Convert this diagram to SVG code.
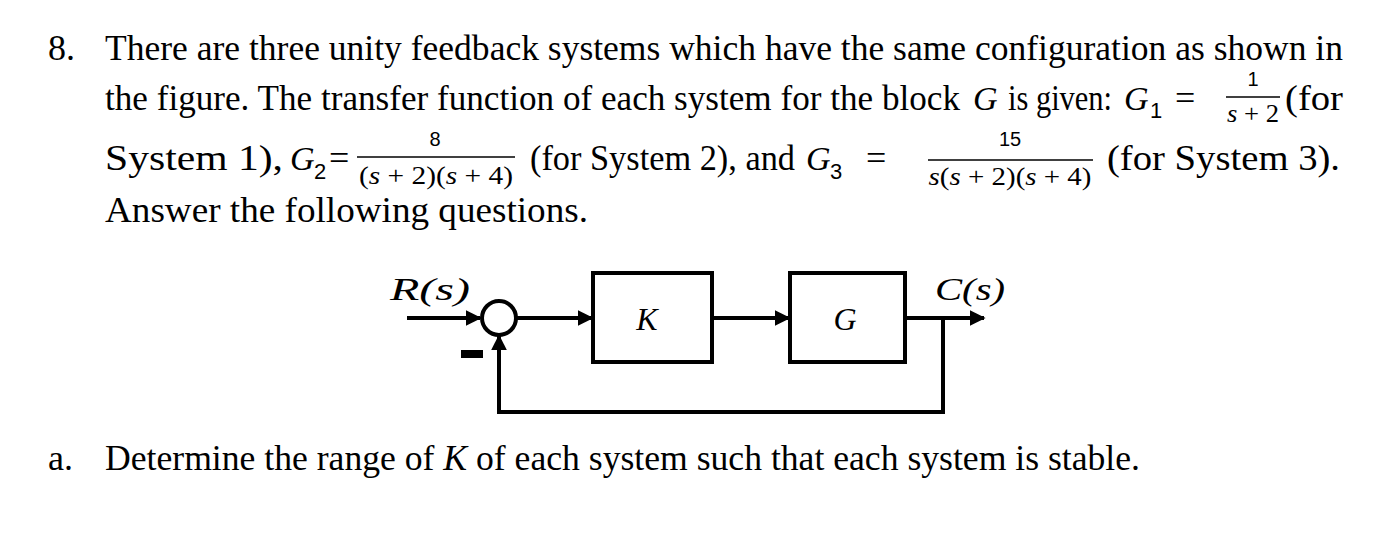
<svg xmlns="http://www.w3.org/2000/svg" width="1386" height="540" viewBox="0 0 1386 540">
<style>
.t{font-family:"Liberation Serif",serif;font-size:36px;fill:#000}
.m{font-family:"Liberation Serif",serif;font-style:italic;font-size:34px;fill:#000}
.f{font-family:"Liberation Sans",sans-serif;font-size:20px;fill:#000}
.fi{font-family:"Liberation Serif",serif;font-size:26px;fill:#000}
.sub{font-family:"Liberation Sans",sans-serif;font-size:22px;fill:#000}
.bl{font-family:"Liberation Serif",serif;font-style:italic;font-size:32px;fill:#000}
.ln{stroke:#000;stroke-width:4;fill:none}
.bx{stroke:#000;stroke-width:4;fill:#fff}
</style>
<defs><marker id="ah" viewBox="0 0 10 10" refX="9" refY="5" markerWidth="4" markerHeight="4" orient="auto" markerUnits="strokeWidth"><path d="M0,0L10,5L0,10z" fill="#000"/></marker></defs>
<rect width="1386" height="540" fill="#fff"/>
<g id="text">
<text class="t" x="48" y="60">8.</text>
<text class="t" x="105" y="60" textLength="1238" lengthAdjust="spacingAndGlyphs">There are three unity feedback systems which have the same configuration as shown in</text>
<text class="t" x="105" y="110" textLength="855" lengthAdjust="spacingAndGlyphs">the figure. The transfer function of each system for the block</text>
<text class="m" x="973" y="110">G</text>
<text class="t" x="1008" y="110" textLength="104" lengthAdjust="spacingAndGlyphs">is given:</text>
<text class="m" x="1124" y="110">G</text><text class="sub" x="1150" y="118">1</text>
<text class="t" x="1175" y="110">=</text>
<text class="f" x="1253" y="86" text-anchor="middle">1</text>
<line x1="1226" y1="97" x2="1280" y2="97" stroke="#000" stroke-width="1.5"/>
<text class="fi" x="1253" y="122" text-anchor="middle" textLength="52" lengthAdjust="spacingAndGlyphs"><tspan font-style="italic">s</tspan> + 2</text>
<text class="t" x="1285" y="110" textLength="58" lengthAdjust="spacingAndGlyphs">(for</text>
<text class="t" x="105" y="170" textLength="178" lengthAdjust="spacingAndGlyphs">System 1),</text>
<text class="m" x="290" y="170">G</text><text class="sub" x="314" y="179">2</text>
<text class="t" x="329" y="170">=</text>
<text class="f" x="435" y="146" text-anchor="middle">8</text>
<line x1="357" y1="157" x2="515" y2="157" stroke="#000" stroke-width="1.5"/>
<text class="fi" x="436" y="184" text-anchor="middle" textLength="154" lengthAdjust="spacingAndGlyphs">(<tspan font-style="italic">s</tspan> + 2)(<tspan font-style="italic">s</tspan> + 4)</text>
<text class="t" x="530" y="170" textLength="265" lengthAdjust="spacingAndGlyphs">(for System 2), and</text>
<text class="m" x="806" y="170">G</text><text class="sub" x="830" y="179">3</text>
<text class="t" x="866" y="170">=</text>
<text class="f" x="1010" y="146" text-anchor="middle">15</text>
<line x1="928" y1="160" x2="1093" y2="160" stroke="#000" stroke-width="1.5"/>
<text class="fi" x="1010" y="185" text-anchor="middle" textLength="163" lengthAdjust="spacingAndGlyphs"><tspan font-style="italic">s</tspan>(<tspan font-style="italic">s</tspan> + 2)(<tspan font-style="italic">s</tspan> + 4)</text>
<text class="t" x="1107" y="170" textLength="233" lengthAdjust="spacingAndGlyphs">(for System 3).</text>
<text class="t" x="105" y="222" textLength="483" lengthAdjust="spacingAndGlyphs">Answer the following questions.</text>
<text class="t" x="48" y="470">a.</text>
<text class="t" x="105" y="470" textLength="1035" lengthAdjust="spacingAndGlyphs">Determine the range of <tspan font-style="italic">K</tspan> of each system such that each system is stable.</text>
</g>
<g id="connectors">
<line class="ln" x1="407" y1="318" x2="480" y2="318" marker-end="url(#ah)"/>
<line class="ln" x1="516" y1="318" x2="592" y2="318" marker-end="url(#ah)"/>
<line class="ln" x1="712" y1="318" x2="789" y2="318" marker-end="url(#ah)"/>
<line class="ln" x1="905" y1="318" x2="984" y2="318" marker-end="url(#ah)"/>
<polyline class="ln" points="943,318 943,412 499,412 499,336" marker-end="url(#ah)"/>
<rect x="461" y="350" width="22" height="8" fill="#000"/>
</g>
<g id="sum"><circle class="bx" cx="499" cy="318" r="17"/></g>
<g id="K"><rect class="bx" x="593" y="273" width="119" height="89"/><text class="bl" x="647" y="330" text-anchor="middle">K</text></g>
<g id="G"><rect class="bx" x="790" y="273" width="115" height="89"/><text class="bl" x="845" y="330" text-anchor="middle">G</text></g>
<text class="bl" x="390" y="300" textLength="80" lengthAdjust="spacingAndGlyphs">R(s)</text>
<text class="bl" x="935" y="300" textLength="70" lengthAdjust="spacingAndGlyphs">C(s)</text>
</svg>
